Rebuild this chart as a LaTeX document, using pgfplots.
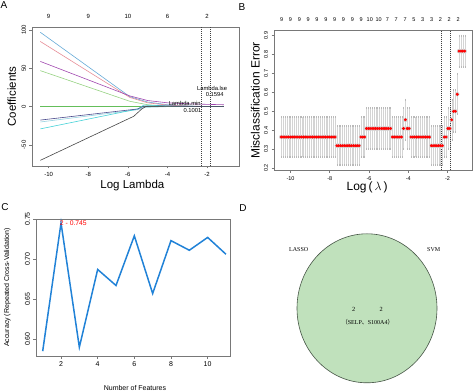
\documentclass[border=0pt]{standalone}
\usepackage{pgfplots}
\usepackage{pgfplotstable}
\pgfplotsset{compat=1.18}
\usepackage{fontspec}
\setmainfont{Liberation Sans}
\newfontfamily\serifD{Liberation Serif}
\newfontfamily\cjk{Noto Sans CJK SC}

\definecolor{cA1}{RGB}{102,170,215}
\definecolor{cA2}{RGB}{230,140,150}
\definecolor{cA3}{RGB}{160,70,175}
\definecolor{cA4}{RGB}{150,210,130}
\definecolor{cA5}{RGB}{100,190,90}
\definecolor{cA6}{RGB}{75,75,140}
\definecolor{cA7}{RGB}{150,210,225}
\definecolor{cA8}{RGB}{70,210,215}
\definecolor{cA9}{RGB}{70,70,70}
\definecolor{cC}{RGB}{33,130,215}
\definecolor{vennfill}{RGB}{192,225,188}
\definecolor{venndraw}{RGB}{70,85,70}
\definecolor{frame}{RGB}{120,120,120}
\definecolor{ebar}{RGB}{212,212,212}
\definecolor{ecap}{RGB}{185,185,185}

\pgfplotstableread{
x y e
-10.470 0.364 0.105
-10.376 0.364 0.105
-10.281 0.364 0.105
-10.187 0.364 0.105
-10.092 0.364 0.105
-9.998 0.364 0.105
-9.904 0.364 0.105
-9.809 0.364 0.105
-9.715 0.364 0.105
-9.620 0.364 0.105
-9.526 0.364 0.105
-9.432 0.364 0.105
-9.337 0.364 0.105
-9.243 0.364 0.105
-9.148 0.364 0.105
-9.054 0.364 0.105
-8.960 0.364 0.105
-8.865 0.364 0.105
-8.771 0.364 0.105
-8.676 0.364 0.105
-8.582 0.364 0.105
-8.488 0.364 0.105
-8.393 0.364 0.105
-8.299 0.364 0.105
-8.204 0.364 0.105
-8.110 0.364 0.105
-8.016 0.364 0.105
-7.921 0.364 0.105
-7.827 0.364 0.105
-7.732 0.364 0.105
-7.638 0.318 0.103
-7.544 0.318 0.103
-7.449 0.318 0.103
-7.355 0.318 0.103
-7.260 0.318 0.103
-7.166 0.318 0.103
-7.072 0.318 0.103
-6.977 0.318 0.103
-6.883 0.318 0.103
-6.788 0.318 0.103
-6.694 0.318 0.103
-6.600 0.318 0.103
-6.505 0.318 0.103
-6.411 0.364 0.105
-6.316 0.364 0.105
-6.222 0.364 0.105
-6.128 0.409 0.106
-6.033 0.409 0.106
-5.939 0.409 0.106
-5.844 0.409 0.106
-5.750 0.409 0.106
-5.656 0.409 0.106
-5.561 0.409 0.106
-5.467 0.409 0.106
-5.372 0.409 0.106
-5.278 0.409 0.106
-5.184 0.409 0.106
-5.089 0.409 0.106
-4.995 0.409 0.106
-4.900 0.409 0.106
-4.806 0.364 0.105
-4.712 0.364 0.105
-4.617 0.364 0.105
-4.523 0.364 0.105
-4.428 0.364 0.105
-4.334 0.364 0.105
-4.240 0.409 0.106
-4.145 0.455 0.107
-4.051 0.409 0.106
-3.956 0.409 0.106
-3.862 0.364 0.105
-3.768 0.364 0.105
-3.673 0.364 0.105
-3.579 0.364 0.105
-3.484 0.364 0.105
-3.390 0.364 0.105
-3.296 0.364 0.105
-3.201 0.364 0.105
-3.107 0.364 0.105
-3.012 0.364 0.105
-2.918 0.364 0.105
-2.824 0.318 0.103
-2.729 0.318 0.103
-2.635 0.318 0.103
-2.540 0.318 0.103
-2.446 0.318 0.103
-2.352 0.318 0.103
-2.257 0.318 0.103
-2.163 0.364 0.105
-2.068 0.364 0.105
-1.974 0.409 0.106
-1.880 0.409 0.106
-1.785 0.455 0.107
-1.691 0.500 0.110
-1.596 0.500 0.110
-1.502 0.590 0.105
-1.408 0.818 0.082
-1.313 0.818 0.082
-1.219 0.818 0.082
-1.124 0.818 0.082
}\cvtab

\pgfplotsset{
  rstyle/.style={
    scale only axis, anchor=south west, clip=false,
    axis line style={frame, line width=0.5pt},
    tick align=outside, tick pos=left, major tick length=2.5pt,
    tick style={frame, line width=0.5pt},
    /pgf/number format/assume math mode=true,
    yticklabel style={rotate=90, anchor=south},
  },
  toplab/.style={
    scale only axis, anchor=south west,
    ymin=0, ymax=1, hide y axis, axis x line*=top,
    axis line style={draw=none}, major tick length=0pt,
    /pgf/number format/assume math mode=true,
  },
}

\begin{document}
\begin{tikzpicture}
\useasboundingbox (0,0) rectangle (474pt,391pt);

% ---------------- Panel A ----------------
\begin{axis}[rstyle, at={(32pt,225pt)}, width=207pt, height=139pt,
  xmin=-10.84, xmax=-0.39, ymin=-77.4, ymax=103.9,
  xtick={-10,-8,-6,-4,-2}, ytick={-50,0,50,100},
  ticklabel style={font=\fontsize{6}{7}\selectfont},
  xlabel={Log Lambda}, ylabel={Coefficients},
  label style={font=\fontsize{11.5}{13}\selectfont},
  xlabel style={at={(axis description cs:0.485,-0.137)}, anchor=center},
  ylabel style={at={(axis description cs:-0.098,0.5)}, anchor=center},
]
\addplot[cA5, line width=0.6pt] coordinates {(-10.42,0) (-1.15,0)};
\addplot[cA1, line width=0.6pt] coordinates {(-10.42,97) (-5.9,13) (-5,6) (-4,2.5) (-3,1) (-2,0.3) (-1.15,0)};
\addplot[cA2, line width=0.6pt] coordinates {(-10.42,85) (-5.9,12) (-5,5) (-4,2) (-3,0.8) (-2,0.2) (-1.15,0)};
\addplot[cA4, line width=0.6pt] coordinates {(-10.42,47) (-5.9,7) (-5,2.5) (-4,0.5) (-3,0) (-1.15,0)};
\addplot[cA7, line width=0.6pt] coordinates {(-10.42,-20) (-5.5,-4) (-5.2,-1) (-4,0) (-1.15,0)};
\addplot[cA8, line width=0.6pt] coordinates {(-10.42,-29) (-5.5,-3) (-5.2,2) (-4.5,1.5) (-3.5,0.5) (-2,0) (-1.15,0)};
\addplot[cA6, line width=0.6pt] coordinates {(-10.42,-17.5) (-5.5,-3) (-5.2,0.5) (-4,1) (-3,0.5) (-2,0) (-1.15,0)};
\addplot[cA9, line width=0.6pt] coordinates {(-10.42,-70) (-5.7,-12.5) (-5.3,-3) (-5.1,0) (-1.15,0)};
\addplot[cA3, line width=0.6pt] coordinates {(-10.42,59) (-5.9,14) (-5,8) (-4,5) (-3,3.8) (-2,3) (-1.15,2.5)};
\addplot[black!75, line width=0.5pt, dash pattern=on 1pt off 1pt] coordinates {(-2.30,-77.4) (-2.30,103.9)};
\addplot[black!75, line width=0.5pt, dash pattern=on 1pt off 1pt] coordinates {(-1.84,-77.4) (-1.84,103.9)};
\node[font=\fontsize{5.8}{6}\selectfont] at (axis cs:-1.75,24) {Lambda.lse};
\node[font=\fontsize{5.8}{6}\selectfont] at (axis cs:-1.62,16.5) {0.1594};
\node[font=\fontsize{5.8}{6}\selectfont] at (axis cs:-3.13,4.4) {Lambda.min};
\node[font=\fontsize{5.8}{6}\selectfont] at (axis cs:-2.74,-5.6) {0.1001};
\end{axis}
\begin{axis}[toplab, at={(32pt,225pt)}, width=207pt, height=139pt,
  xmin=-10.84, xmax=-0.39,
  xtick={-10,-8,-6,-4,-2}, xticklabels={9,9,10,6,2},
  xticklabel style={font=\fontsize{6}{7}\selectfont, yshift=5pt}]
\end{axis}

% ---------------- Panel B ----------------
\begin{axis}[rstyle, at={(274pt,220.5pt)}, width=198pt, height=140pt,
  xmin=-10.84, xmax=-0.75, ymin=0.187, ymax=0.927,
  xtick={-10,-8,-6,-4,-2}, ytick={0.2,0.3,0.4,0.5,0.6,0.7,0.8,0.9},
  ticklabel style={font=\fontsize{5.5}{6}\selectfont},
  yticklabel style={/pgf/number format/.cd, fixed, precision=1},
  xlabel={Log\,(\,$\lambda$\,)}, ylabel={Misclassification Error},
  label style={font=\fontsize{12}{13}\selectfont},
  xlabel style={at={(axis description cs:0.47,-0.122)}, anchor=center},
  ylabel style={at={(axis description cs:-0.094,0.5)}, anchor=center},
]
\addplot[ebar, only marks, mark=none,
  error bars/.cd, y dir=both, y explicit,
  error bar style={ebar, line width=0.25pt},
  error mark options={ecap, mark size=1pt, line width=0.3pt}]
  table[x=x, y=y, y error=e] {\cvtab};
\addplot[only marks, mark=*, mark size=1.25pt, red, mark options={draw=none, fill=red}]
  table[x=x, y=y] {\cvtab};
\addplot[black!75, line width=0.5pt, dash pattern=on 1pt off 1pt] coordinates {(-2.30,0.187) (-2.30,0.927)};
\addplot[black!75, line width=0.5pt, dash pattern=on 1pt off 1pt] coordinates {(-1.84,0.187) (-1.84,0.927)};
\end{axis}
\begin{axis}[toplab, at={(274pt,220.5pt)}, width=198pt, height=140pt,
  xmin=-10.84, xmax=-0.75,
  xtick={-10.45,-10.00,-9.55,-9.10,-8.65,-8.20,-7.75,-7.30,-6.85,-6.40,-5.96,-5.51,-5.06,-4.61,-4.16,-3.71,-3.26,-2.81,-2.36,-1.91,-1.46},
  xticklabels={9,9,9,9,9,9,9,9,9,9,10,10,7,7,7,5,3,3,2,2,2},
  xticklabel style={font=\fontsize{5.5}{6}\selectfont, yshift=5.5pt}]
\end{axis}

% ---------------- Panel C ----------------
\begin{axis}[rstyle, at={(36pt,35pt)}, width=194pt, height=137pt,
  xmin=0.635, xmax=11.22, ymin=0.579, ymax=0.75,
  xtick={2,4,6,8,10}, ytick={0.60,0.65,0.70,0.75},
  ticklabel style={font=\fontsize{7}{8}\selectfont},
  yticklabel style={/pgf/number format/.cd, fixed, fixed zerofill, precision=2},
  xlabel={Number of Features}, ylabel={Accuracy (Repeated Cross-Validation)},
  label style={font=\fontsize{7}{8}\selectfont},
  xlabel style={at={(axis description cs:0.51,-0.232)}, anchor=center},
  ylabel style={at={(axis description cs:-0.148,0.5)}, anchor=center},
]
\addplot[cC, line width=1.5pt] coordinates {
 (1,0.585) (2,0.745) (3,0.590) (4,0.687) (5,0.667) (6,0.729)
 (7,0.657) (8,0.723) (9,0.711) (10,0.727) (11,0.706)};
\node[red, anchor=west, inner sep=0pt, font=\fontsize{6.8}{7}\selectfont] at (axis cs:1.93,0.7445) {2 - 0.745};
\end{axis}

% ---------------- Panel D ----------------
\draw[fill=vennfill, draw=venndraw, line width=0.6pt] (367pt,82.7pt) ellipse [x radius=70pt, y radius=74.5pt];
\node[font=\serifD\fontsize{6}{7}\selectfont] at (298.7pt,141pt) {LASSO};
\node[font=\serifD\fontsize{6}{7}\selectfont] at (433.7pt,141pt) {SVM};
\node[font=\serifD\fontsize{6.3}{7}\selectfont] at (353.7pt,82pt) {2};
\node[font=\serifD\fontsize{6.3}{7}\selectfont] at (381.3pt,82pt) {2};
\node[font=\serifD\fontsize{6}{7}\selectfont] at (367.7pt,68.3pt) {{\cjk （}SELP{\cjk 、}S100A4{\cjk ）}};

% panel letters
\node[font=\fontsize{10}{12}\selectfont] at (4pt,386pt) {A};
\node[font=\fontsize{10}{12}\selectfont] at (242pt,384pt) {B};
\node[font=\fontsize{10}{12}\selectfont] at (5pt,184pt) {C};
\node[font=\fontsize{10}{12}\selectfont] at (243pt,183pt) {D};
\end{tikzpicture}
\end{document}
